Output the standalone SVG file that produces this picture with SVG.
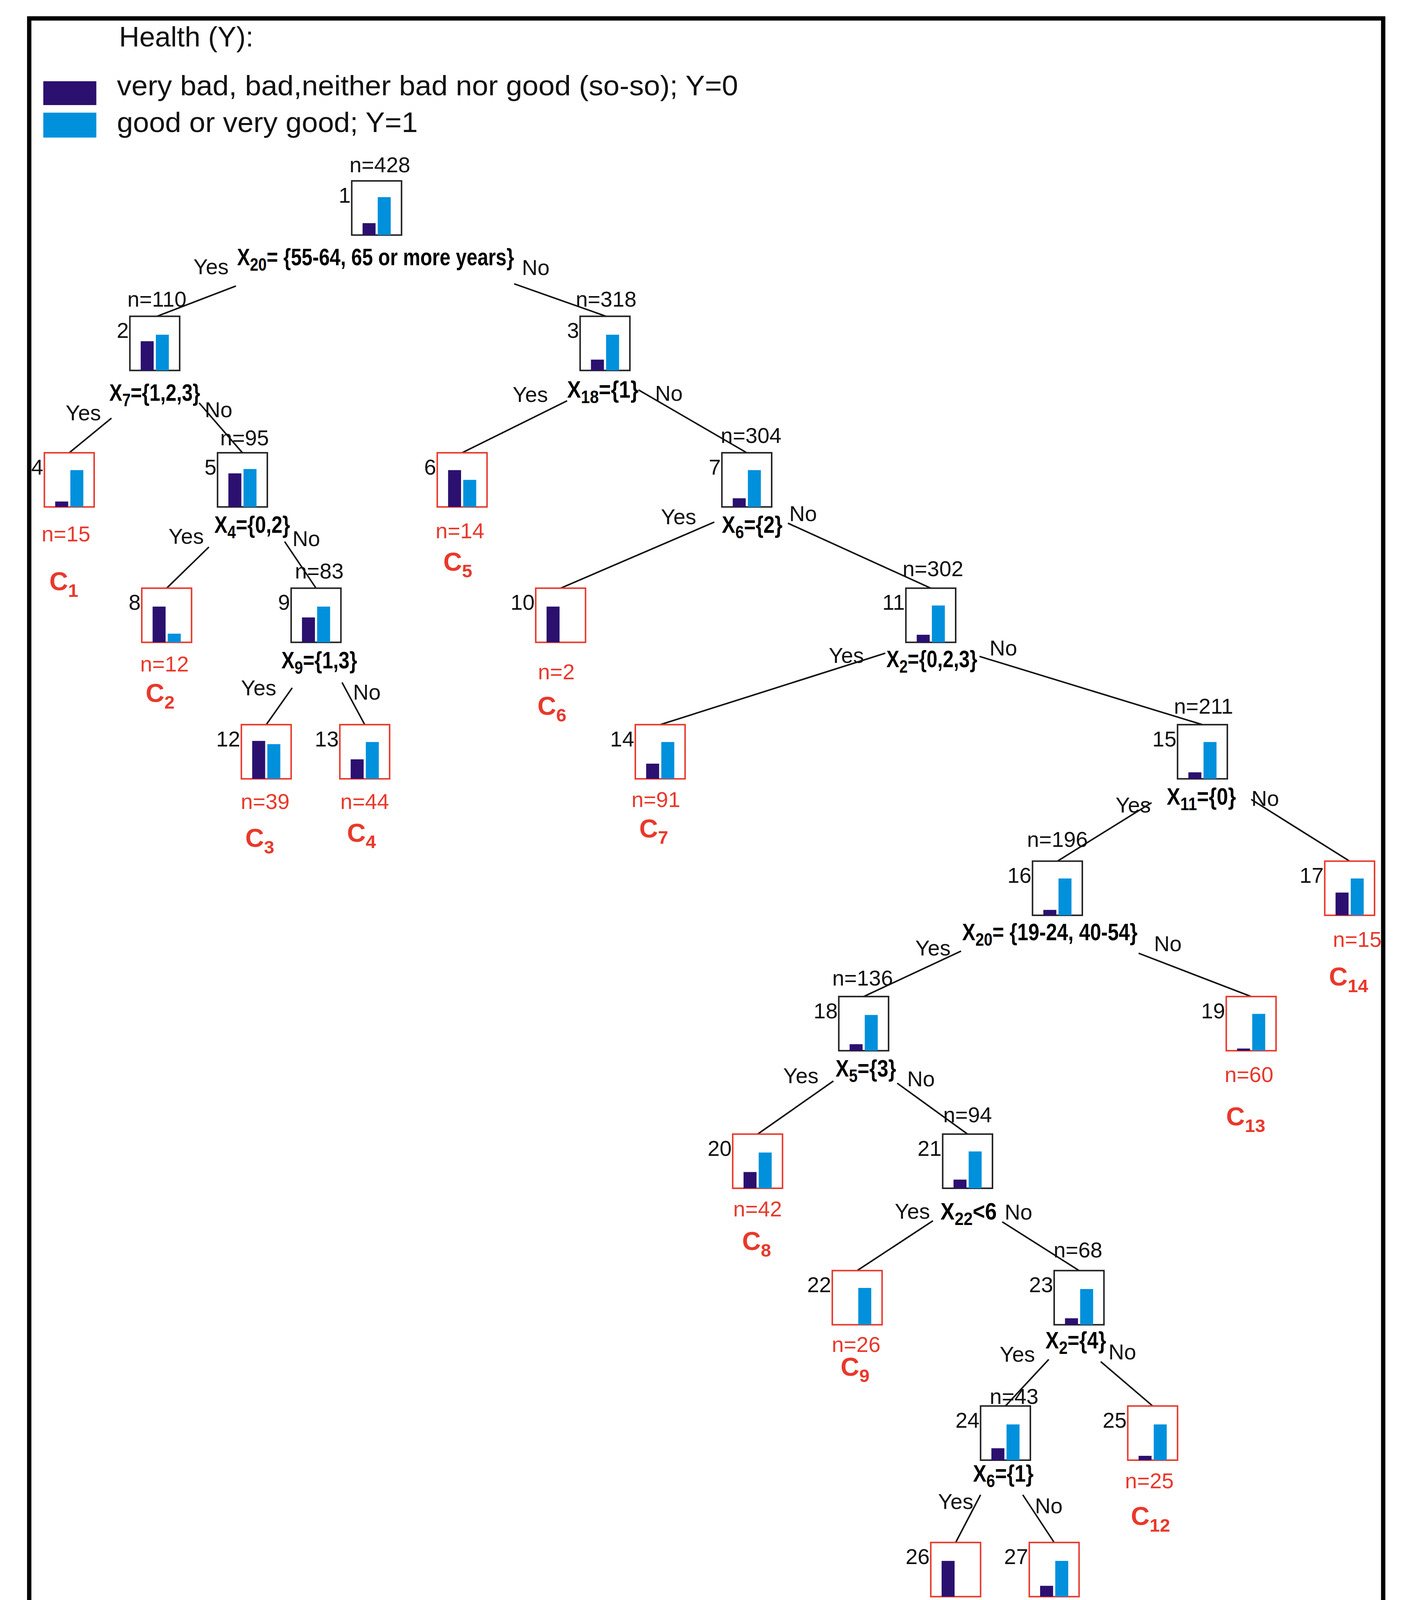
<svg xmlns="http://www.w3.org/2000/svg" width="3601" height="4326" viewBox="0 0 3601 4326">
<style>
.box{fill:#fff;stroke:#222;stroke-width:1.4}
.rb{fill:#fff;stroke:#e8392c;stroke-width:1.4}
.d{fill:#2b1070}
.b{fill:#0090dc}
text{font-family:"Liberation Sans",Arial,sans-serif}
.num{font-size:20px;fill:#111;text-anchor:end}
.n{font-size:20px;fill:#111;text-anchor:middle}
.rn{font-size:20px;fill:#e8392c;text-anchor:middle}
.c{font-size:24px;fill:#e8392c;font-weight:bold;text-anchor:middle}
.s{font-size:22px;fill:#000;font-weight:bold;text-anchor:middle}
.yn{font-size:20px;fill:#111;text-anchor:middle}
.lg{font-size:26px;fill:#111}
.ln{stroke:#111;stroke-width:1.4;fill:none}
</style>
<rect width="3601" height="4326" fill="#fff"/>
<g transform="scale(2.77,2.773)">
<rect x="27" y="17" width="1251" height="1530" fill="none" stroke="#000" stroke-width="4"/>
<g id="legend">
<text class="lg" x="110" y="43" font-size="28">Health (Y):</text>
<rect class="d" x="40" y="75" width="49" height="22"/>
<rect class="b" x="40" y="104" width="49" height="23"/>
<text class="lg" x="108" y="88" textLength="574" lengthAdjust="spacingAndGlyphs">very bad, bad,neither bad nor good (so-so); Y=0</text>
<text class="lg" x="108" y="122" textLength="278" lengthAdjust="spacingAndGlyphs">good or very good; Y=1</text>
</g>
<g id="connectors">
<path class="ln" d="M218 264L145 292M475 262L560 292"/>
<path class="ln" d="M103 386L64 418M184 372L224 418"/>
<path class="ln" d="M524 370L427 418M590 360L690 418"/>
<path class="ln" d="M193 505L154 543M263 500L292 543"/>
<path class="ln" d="M660 482L518 543M728 483L860 543"/>
<path class="ln" d="M270 635L246 669M316 630L337 669"/>
<path class="ln" d="M818 603L610 669M905 606L1111 669"/>
<path class="ln" d="M1064 741L977 795M1156 738L1247 795"/>
<path class="ln" d="M888 878L798 920M1052 880L1156 920"/>
<path class="ln" d="M770 998L700 1047M829 1000L894 1047"/>
<path class="ln" d="M862 1127L792 1173M926 1128L997 1173"/>
<path class="ln" d="M969 1255L929 1298M1017 1257L1065 1298"/>
<path class="ln" d="M906 1380L883 1424M945 1380L974 1424"/>
</g>
<g id="splits">
<text class="s" x="347" y="245" textLength="256" lengthAdjust="spacingAndGlyphs">X<tspan dy="5" font-size="17">20</tspan><tspan dy="-5">= {55-64, 65 or more years}</tspan></text>
<text class="yn" x="195" y="253">Yes</text><text class="yn" x="495" y="254">No</text>
<text class="s" x="143" y="370" textLength="84" lengthAdjust="spacingAndGlyphs">X<tspan dy="5" font-size="17">7</tspan><tspan dy="-5">={1,2,3}</tspan></text>
<text class="yn" x="77" y="388">Yes</text><text class="yn" x="202" y="385">No</text>
<text class="s" x="557" y="367" textLength="66" lengthAdjust="spacingAndGlyphs">X<tspan dy="5" font-size="17">18</tspan><tspan dy="-5">={1}</tspan></text>
<text class="yn" x="490" y="371">Yes</text><text class="yn" x="618" y="370">No</text>
<text class="s" x="233" y="492" textLength="70" lengthAdjust="spacingAndGlyphs">X<tspan dy="5" font-size="17">4</tspan><tspan dy="-5">={0,2}</tspan></text>
<text class="yn" x="172" y="502">Yes</text><text class="yn" x="283" y="504">No</text>
<text class="s" x="695" y="492" textLength="56" lengthAdjust="spacingAndGlyphs">X<tspan dy="5" font-size="17">6</tspan><tspan dy="-5">={2}</tspan></text>
<text class="yn" x="627" y="484">Yes</text><text class="yn" x="742" y="481">No</text>
<text class="s" x="295" y="617" textLength="70" lengthAdjust="spacingAndGlyphs">X<tspan dy="5" font-size="17">9</tspan><tspan dy="-5">={1,3}</tspan></text>
<text class="yn" x="239" y="642">Yes</text><text class="yn" x="339" y="646">No</text>
<text class="s" x="861" y="616" textLength="84" lengthAdjust="spacingAndGlyphs">X<tspan dy="5" font-size="17">2</tspan><tspan dy="-5">={0,2,3}</tspan></text>
<text class="yn" x="782" y="612">Yes</text><text class="yn" x="927" y="605">No</text>
<text class="s" x="1110" y="743" textLength="64" lengthAdjust="spacingAndGlyphs">X<tspan dy="5" font-size="17">11</tspan><tspan dy="-5">={0}</tspan></text>
<text class="yn" x="1047" y="750">Yes</text><text class="yn" x="1169" y="744">No</text>
<text class="s" x="970" y="868" textLength="162" lengthAdjust="spacingAndGlyphs">X<tspan dy="5" font-size="17">20</tspan><tspan dy="-5">= {19-24, 40-54}</tspan></text>
<text class="yn" x="862" y="882">Yes</text><text class="yn" x="1079" y="878">No</text>
<text class="s" x="800" y="994" textLength="56" lengthAdjust="spacingAndGlyphs">X<tspan dy="5" font-size="17">5</tspan><tspan dy="-5">={3}</tspan></text>
<text class="yn" x="740" y="1000">Yes</text><text class="yn" x="851" y="1003">No</text>
<text class="s" x="895" y="1126" textLength="52" lengthAdjust="spacingAndGlyphs">X<tspan dy="5" font-size="17">22</tspan><tspan dy="-5">&lt;6</tspan></text>
<text class="yn" x="843" y="1125">Yes</text><text class="yn" x="941" y="1126">No</text>
<text class="s" x="994" y="1245" textLength="56" lengthAdjust="spacingAndGlyphs">X<tspan dy="5" font-size="17">2</tspan><tspan dy="-5">={4}</tspan></text>
<text class="yn" x="940" y="1257">Yes</text><text class="yn" x="1037" y="1255">No</text>
<text class="s" x="927" y="1368" textLength="56" lengthAdjust="spacingAndGlyphs">X<tspan dy="5" font-size="17">6</tspan><tspan dy="-5">={1}</tspan></text>
<text class="yn" x="883" y="1393">Yes</text><text class="yn" x="969" y="1397">No</text>
</g>
<g id="n1"><rect class="box" x="325" y="167" width="46" height="50"/><rect class="d" x="335" y="206" width="12" height="11"/><rect class="b" x="349" y="182" width="12" height="35"/><text class="num" x="324" y="187">1</text><text class="n" x="351" y="159">n=428</text></g>
<g id="n2"><rect class="box" x="120" y="292" width="46" height="50"/><rect class="d" x="130" y="315" width="12" height="27"/><rect class="b" x="144" y="309" width="12" height="33"/><text class="num" x="119" y="312">2</text><text class="n" x="145" y="283">n=110</text></g>
<g id="n3"><rect class="box" x="536" y="292" width="46" height="50"/><rect class="d" x="546" y="332" width="12" height="10"/><rect class="b" x="560" y="309" width="12" height="33"/><text class="num" x="535" y="312">3</text><text class="n" x="560" y="283">n=318</text></g>
<g id="n4"><rect class="rb" x="41" y="418" width="46" height="50"/><rect class="d" x="51" y="463" width="12" height="5"/><rect class="b" x="65" y="434" width="12" height="34"/><text class="num" x="40" y="438">4</text><text class="rn" x="61" y="500">n=15</text><text class="c" x="59" y="545">C<tspan dy="6" font-size="17">1</tspan></text></g>
<g id="n5"><rect class="box" x="201" y="418" width="46" height="50"/><rect class="d" x="211" y="437" width="12" height="31"/><rect class="b" x="225" y="433" width="12" height="35"/><text class="num" x="200" y="438">5</text><text class="n" x="226" y="411">n=95</text></g>
<g id="n6"><rect class="rb" x="404" y="418" width="46" height="50"/><rect class="d" x="414" y="434" width="12" height="34"/><rect class="b" x="428" y="443" width="12" height="25"/><text class="num" x="403" y="438">6</text><text class="rn" x="425" y="497">n=14</text><text class="c" x="423" y="527">C<tspan dy="6" font-size="17">5</tspan></text></g>
<g id="n7"><rect class="box" x="667" y="418" width="46" height="50"/><rect class="d" x="677" y="460" width="12" height="8"/><rect class="b" x="691" y="434" width="12" height="34"/><text class="num" x="666" y="438">7</text><text class="n" x="694" y="409">n=304</text></g>
<g id="n8"><rect class="rb" x="131" y="543" width="46" height="50"/><rect class="d" x="141" y="560" width="12" height="33"/><rect class="b" x="155" y="585" width="12" height="8"/><text class="num" x="130" y="563">8</text><text class="rn" x="152" y="620">n=12</text><text class="c" x="148" y="648">C<tspan dy="6" font-size="17">2</tspan></text></g>
<g id="n9"><rect class="box" x="269" y="543" width="46" height="50"/><rect class="d" x="279" y="570" width="12" height="23"/><rect class="b" x="293" y="560" width="12" height="33"/><text class="num" x="268" y="563">9</text><text class="n" x="295" y="534">n=83</text></g>
<g id="n10"><rect class="rb" x="495" y="543" width="46" height="50"/><rect class="d" x="505" y="560" width="12" height="33"/><text class="num" x="494" y="563">10</text><text class="rn" x="514" y="627">n=2</text><text class="c" x="510" y="660">C<tspan dy="6" font-size="17">6</tspan></text></g>
<g id="n11"><rect class="box" x="837" y="543" width="46" height="50"/><rect class="d" x="847" y="586" width="12" height="7"/><rect class="b" x="861" y="559" width="12" height="34"/><text class="num" x="836" y="563">11</text><text class="n" x="862" y="532">n=302</text></g>
<g id="n12"><rect class="rb" x="223" y="669" width="46" height="50"/><rect class="d" x="233" y="684" width="12" height="35"/><rect class="b" x="247" y="687" width="12" height="32"/><text class="num" x="222" y="689">12</text><text class="rn" x="245" y="747">n=39</text><text class="c" x="240" y="782">C<tspan dy="6" font-size="17">3</tspan></text></g>
<g id="n13"><rect class="rb" x="314" y="669" width="46" height="50"/><rect class="d" x="324" y="701" width="12" height="18"/><rect class="b" x="338" y="685" width="12" height="34"/><text class="num" x="313" y="689">13</text><text class="rn" x="337" y="747">n=44</text><text class="c" x="334" y="777">C<tspan dy="6" font-size="17">4</tspan></text></g>
<g id="n14"><rect class="rb" x="587" y="669" width="46" height="50"/><rect class="d" x="597" y="705" width="12" height="14"/><rect class="b" x="611" y="685" width="12" height="34"/><text class="num" x="586" y="689">14</text><text class="rn" x="606" y="745">n=91</text><text class="c" x="604" y="773">C<tspan dy="6" font-size="17">7</tspan></text></g>
<g id="n15"><rect class="box" x="1088" y="669" width="46" height="50"/><rect class="d" x="1098" y="713" width="12" height="6"/><rect class="b" x="1112" y="685" width="12" height="34"/><text class="num" x="1087" y="689">15</text><text class="n" x="1112" y="659">n=211</text></g>
<g id="n16"><rect class="box" x="954" y="795" width="46" height="50"/><rect class="d" x="964" y="840" width="12" height="5"/><rect class="b" x="978" y="811" width="12" height="34"/><text class="num" x="953" y="815">16</text><text class="n" x="977" y="782">n=196</text></g>
<g id="n17"><rect class="rb" x="1224" y="795" width="46" height="50"/><rect class="d" x="1234" y="824" width="12" height="21"/><rect class="b" x="1248" y="811" width="12" height="34"/><text class="num" x="1223" y="815">17</text><text class="rn" x="1254" y="874">n=15</text><text class="c" x="1246" y="910">C<tspan dy="6" font-size="17">14</tspan></text></g>
<g id="n18"><rect class="box" x="775" y="920" width="46" height="50"/><rect class="d" x="785" y="964" width="12" height="6"/><rect class="b" x="799" y="937" width="12" height="33"/><text class="num" x="774" y="940">18</text><text class="n" x="797" y="910">n=136</text></g>
<g id="n19"><rect class="rb" x="1133" y="920" width="46" height="50"/><rect class="d" x="1143" y="968" width="12" height="2"/><rect class="b" x="1157" y="936" width="12" height="34"/><text class="num" x="1132" y="940">19</text><text class="rn" x="1154" y="999">n=60</text><text class="c" x="1151" y="1039">C<tspan dy="6" font-size="17">13</tspan></text></g>
<g id="n20"><rect class="rb" x="677" y="1047" width="46" height="50"/><rect class="d" x="687" y="1082" width="12" height="15"/><rect class="b" x="701" y="1064" width="12" height="33"/><text class="num" x="676" y="1067">20</text><text class="rn" x="700" y="1123">n=42</text><text class="c" x="699" y="1154">C<tspan dy="6" font-size="17">8</tspan></text></g>
<g id="n21"><rect class="box" x="871" y="1047" width="46" height="50"/><rect class="d" x="881" y="1089" width="12" height="8"/><rect class="b" x="895" y="1063" width="12" height="34"/><text class="num" x="870" y="1067">21</text><text class="n" x="894" y="1036">n=94</text></g>
<g id="n22"><rect class="rb" x="769" y="1173" width="46" height="50"/><rect class="b" x="793" y="1189" width="12" height="34"/><text class="num" x="768" y="1193">22</text><text class="rn" x="791" y="1248">n=26</text><text class="c" x="790" y="1270">C<tspan dy="6" font-size="17">9</tspan></text></g>
<g id="n23"><rect class="box" x="974" y="1173" width="46" height="50"/><rect class="d" x="984" y="1217" width="12" height="6"/><rect class="b" x="998" y="1190" width="12" height="33"/><text class="num" x="973" y="1193">23</text><text class="n" x="996" y="1161">n=68</text></g>
<g id="n24"><rect class="box" x="906" y="1298" width="46" height="50"/><rect class="d" x="916" y="1337" width="12" height="11"/><rect class="b" x="930" y="1315" width="12" height="33"/><text class="num" x="905" y="1318">24</text><text class="n" x="937" y="1296">n=43</text></g>
<g id="n25"><rect class="rb" x="1042" y="1298" width="46" height="50"/><rect class="d" x="1052" y="1344" width="12" height="4"/><rect class="b" x="1066" y="1315" width="12" height="33"/><text class="num" x="1041" y="1318">25</text><text class="rn" x="1062" y="1374">n=25</text><text class="c" x="1063" y="1408">C<tspan dy="6" font-size="17">12</tspan></text></g>
<g id="n26"><rect class="rb" x="860" y="1424" width="46" height="50"/><rect class="d" x="870" y="1441" width="12" height="33"/><text class="num" x="859" y="1444">26</text><text class="rn" x="881" y="1501">n=1</text><text class="c" x="876" y="1534">C<tspan dy="6" font-size="17">10</tspan></text></g>
<g id="n27"><rect class="rb" x="951" y="1424" width="46" height="50"/><rect class="d" x="961" y="1464" width="12" height="10"/><rect class="b" x="975" y="1441" width="12" height="33"/><text class="num" x="950" y="1444">27</text><text class="rn" x="974" y="1501">n=42</text><text class="c" x="970" y="1528">C<tspan dy="6" font-size="17">11</tspan></text></g>
</g>
</svg>
